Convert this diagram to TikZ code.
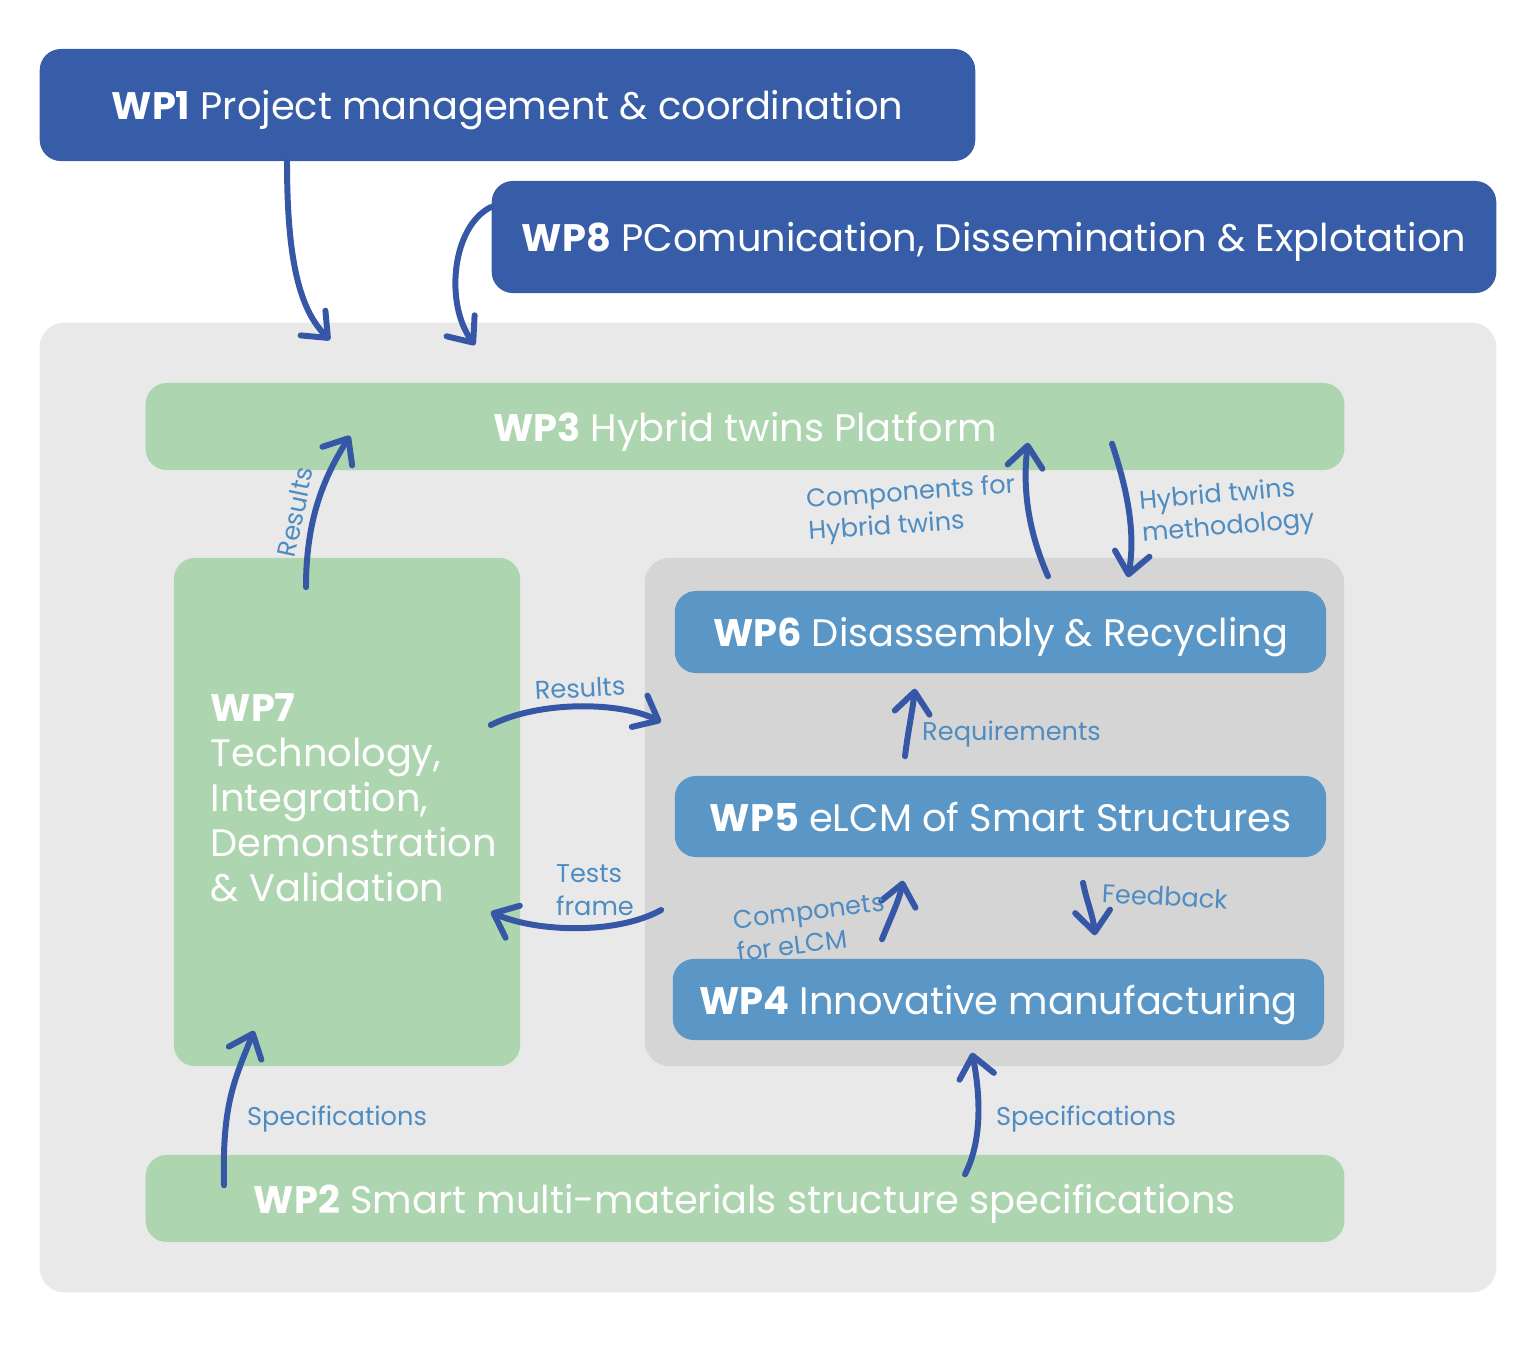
\documentclass[tikz,border=0pt]{standalone}
\usepackage{fontspec}
\setmainfont{Poppins}
\usepackage{tikz}
\usetikzlibrary{arrows.meta, positioning}

\definecolor{wpdark}{HTML}{385DA8}
\definecolor{wpmid}{HTML}{5B97C6}
\definecolor{wpgreen}{HTML}{ADD5AF}
\definecolor{outergrey}{HTML}{E9E9E9}
\definecolor{innergrey}{HTML}{D5D5D5}
\definecolor{flowblue}{HTML}{3557A6}
\definecolor{noteblue}{HTML}{4F8CC2}

\begin{document}
\begin{tikzpicture}[
  x=0.01cm, y=-0.01cm,
  wpbox/.style={rounded corners=6pt, inner sep=0pt, text=white, text depth=0pt,
                font=\fontsize{10.9}{12.8}\selectfont},
  panel/.style={rounded corners=7pt, inner sep=0pt},
  flow/.style={->, draw=flowblue, line width=1.7pt, line cap=round},
  note/.style={text=noteblue, font=\fontsize{7.3}{9.2}\selectfont, inner sep=1pt},
  >={Straight Barb[length=2.1mm, width=3.5mm, line width=1.7pt, round]}
]
\useasboundingbox (0,0) rectangle (1536,1345);

% panels
\node[panel, fill=outergrey, minimum width=14.56cm, minimum height=9.69cm] (frame) at (768,807.5) {};
\node[panel, fill=innergrey, minimum width=6.99cm, minimum height=5.08cm] (cluster) at (994.5,812) {};

% work packages
\node[wpbox, fill=wpdark, minimum width=9.35cm, minimum height=1.12cm] (wp1) at (507.5,105) {\textbf{WP1} Project management \& coordination};
\node[wpbox, fill=wpdark, minimum width=10.04cm, minimum height=1.12cm] (wp8) at (994,237) {\textbf{WP8} PComunication, Dissemination \& Explotation};
\node[wpbox, fill=wpgreen, minimum width=11.98cm, minimum height=0.87cm] (wp3) at (745,426.5) {\textbf{WP3} Hybrid twins Platform};
\node[wpbox, fill=wpgreen, minimum width=11.98cm, minimum height=0.87cm] (wp2) at (745,1198.5) {\textbf{WP2} Smart multi-materials structure specifications};
\node[wpbox, fill=wpgreen, minimum width=3.46cm, minimum height=5.08cm] (wp7) at (347,812) {};
\node[wpbox, anchor=west, align=left, text depth=] (wp7text) at (210,798) {\textbf{WP7}\\Technology,\\Integration,\\Demonstration\\\& Validation};
\node[wpbox, fill=wpmid, minimum width=6.51cm, minimum height=0.82cm] (wp6) at (1000.5,632) {\textbf{WP6} Disassembly \& Recycling};
\node[wpbox, fill=wpmid, minimum width=6.51cm, minimum height=0.81cm] (wp5) at (1000.5,816.5) {\textbf{WP5} eLCM of Smart Structures};
\node[wpbox, fill=wpmid, minimum width=6.51cm, minimum height=0.81cm] (wp4) at (998.5,999.5) {\textbf{WP4} Innovative manufacturing};

% arrow ends in the grey frame
\coordinate (in1) at (330,340);
\coordinate (in8) at (475,345);

% connectors
\draw[flow] ([shift={(-220.5,0)}]wp1.south) .. controls +(0,100) and +(-30,-30) .. (in1);
\draw[flow] ([shift={(0,-30)}]wp8.west) .. controls +(-40,20) and +(-30,-40) .. (in8);
\draw[flow] ([shift={(-41,30)}]wp7.north) .. controls +(0,-70) and +(-25,40) .. ([shift={(-395,-35)}]wp3.south);
\draw[flow] ([shift={(47.5,-14)}]wp6.north) .. controls +(-22,-50) and +(-5,40) .. ([shift={(283,-28)}]wp3.south);
\draw[flow] ([shift={(367,-27)}]wp3.south) .. controls +(15,45) and +(8,-45) .. ([shift={(127.5,-13)}]wp6.north);
\draw[flow] ([shift={(-30,-87)}]wp7.east) .. controls +(50,-25) and +(-40,-20) .. ([shift={(17,-90)}]cluster.west);
\draw[flow] ([shift={(17,98)}]cluster.west) .. controls +(-45,25) and +(45,20) .. ([shift={(-30,100)}]wp7.east);
\draw[flow] ([shift={(-95.5,-19)}]wp5.north) .. controls +(3,-25) and +(-3,25) .. ([shift={(-85.5,15)}]wp6.south);
\draw[flow] ([shift={(-116.5,-19)}]wp4.north) .. controls +(8,-20) and +(-4,20) .. ([shift={(-97.5,23)}]wp5.south);
\draw[flow] ([shift={(82.5,25)}]wp5.south) .. controls +(4,20) and +(-2,-20) .. ([shift={(96.5,-23)}]wp4.north);
\draw[flow] ([shift={(-521,31)}]wp2.north) .. controls +(-2,-80) and +(-20,50) .. ([shift={(-93,-36)}]wp7.south);
\draw[flow] ([shift={(220,20)}]wp2.north) .. controls +(18,-35) and +(8,40) .. ([shift={(-26.5,12)}]wp4.south);

% connector labels
\node[note, rotate=78] (res3) at (295,512) {Results};
\node[note, align=left, rotate=4] (comp3) at (912,510) {Components for\\Hybrid twins};
\node[note, align=left, rotate=5] (meth6) at (1227,512) {Hybrid twins\\methodology};
\node[note, rotate=3] (res6) at (580,688) {Results};
\node[note, align=left] (tests7) at (595,890) {Tests\\frame};
\node[note, anchor=west] (req6) at (918,734) {Requirements};
\node[note, align=left, rotate=7] (comp5) at (811,927) {Componets\\for eLCM};
\node[note, anchor=west, rotate=-3] (feed4) at (1098,893) {Feedback};
\node[note] (spec7) at (337,1119) {Specifications};
\node[note] (spec4) at (1086,1119) {Specifications};
\end{tikzpicture}
\end{document}
